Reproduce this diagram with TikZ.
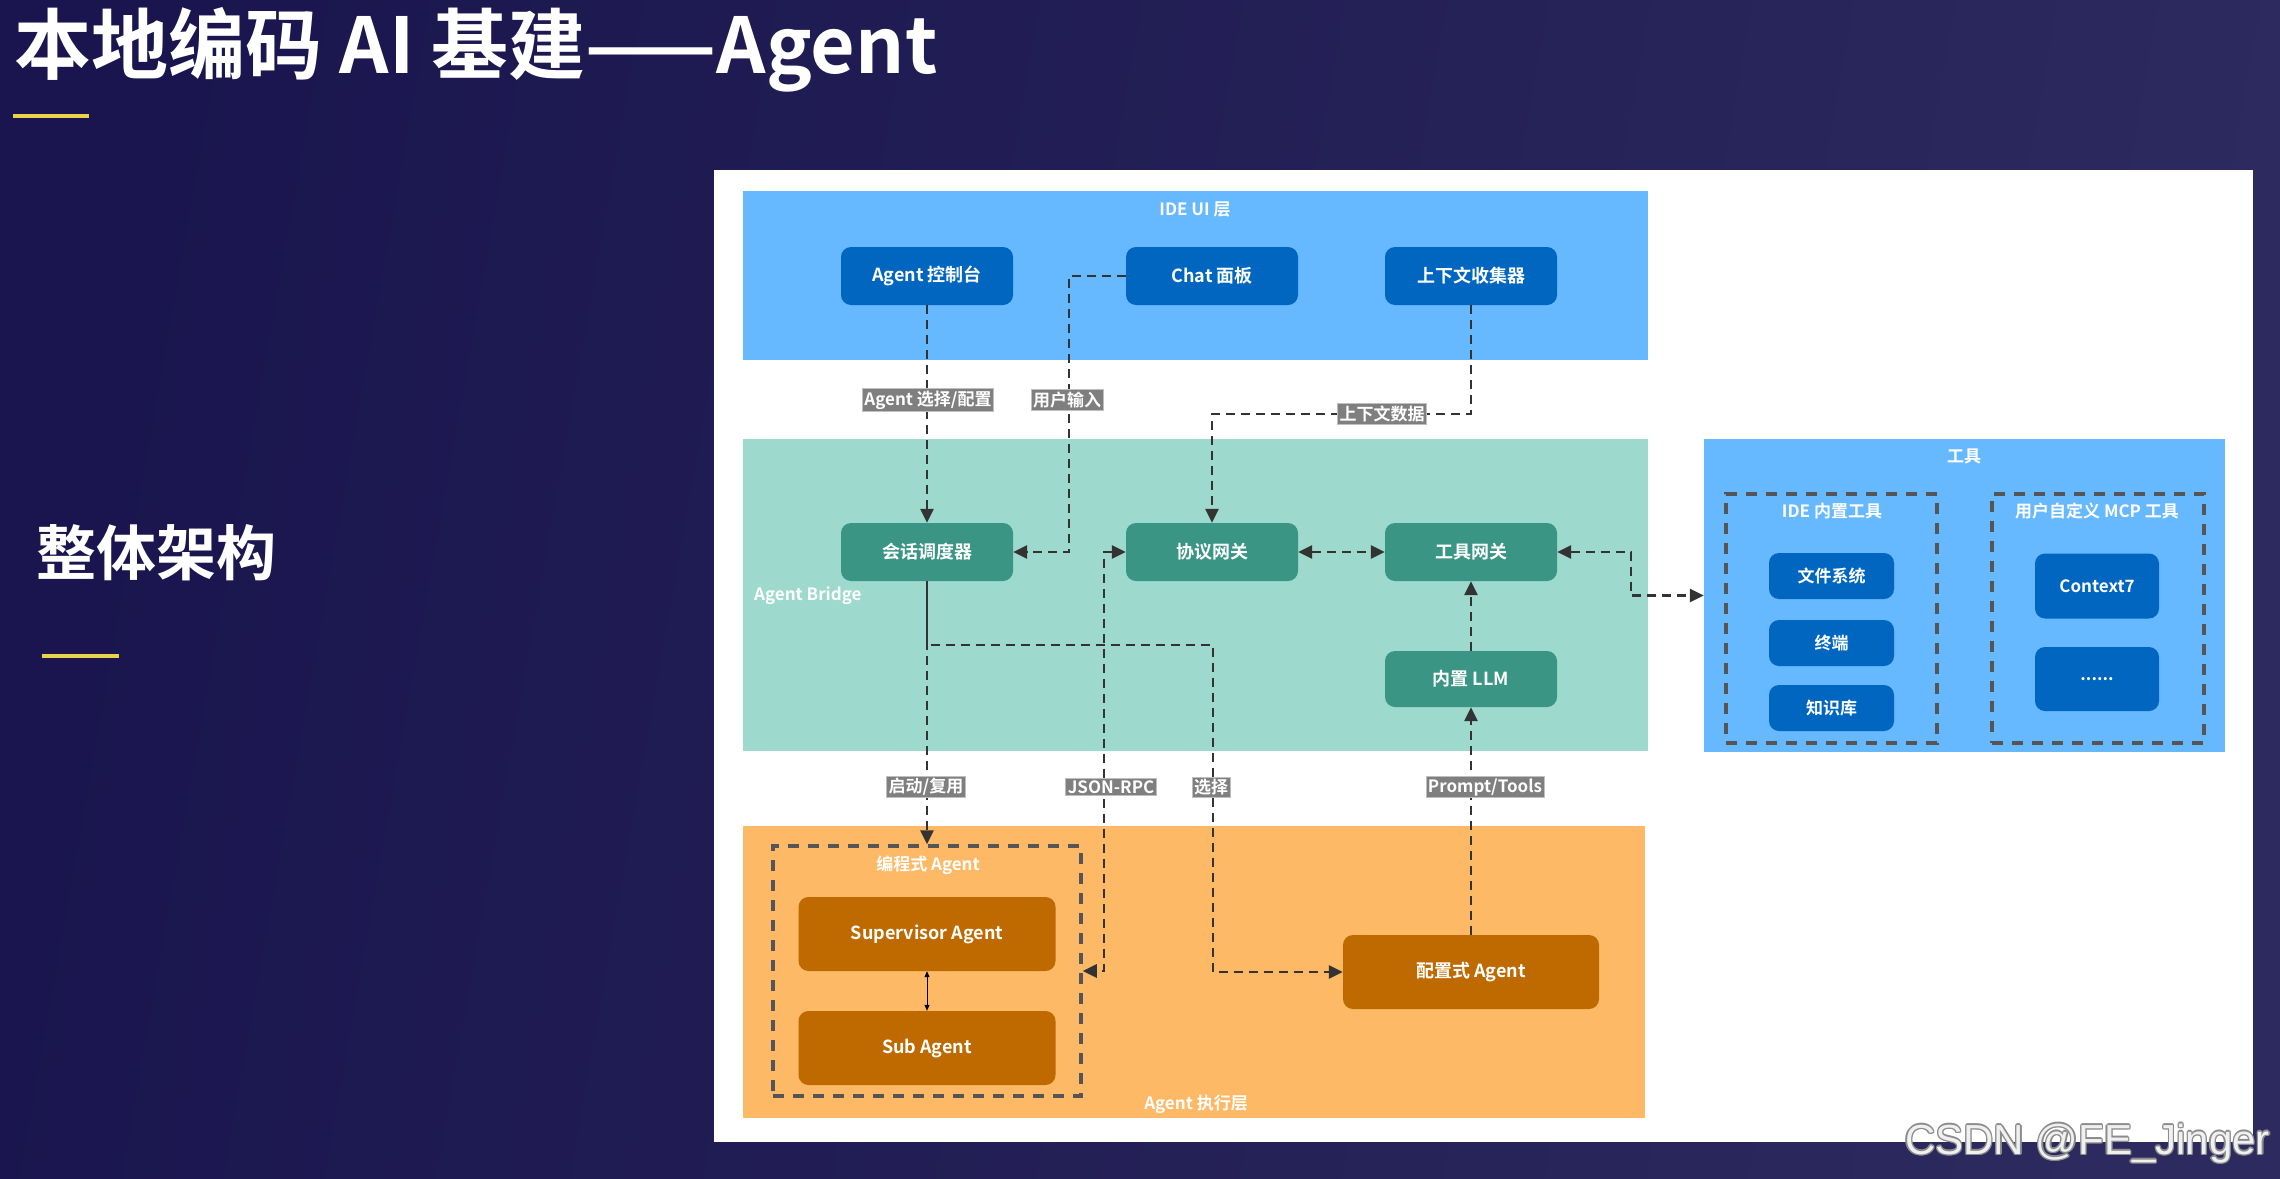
\documentclass[tikz,border=0pt]{standalone}
\usepackage{fontspec}
\setmainfont{Noto Sans CJK SC}[BoldFont={Noto Sans CJK SC Bold}]
\newfontfamily\wmfont{Liberation Sans}
\usetikzlibrary{arrows.meta,calc}
\definecolor{bgL}{HTML}{1A154E}
\definecolor{bgR}{HTML}{2C2A5E}
\definecolor{uiL}{HTML}{66B8FF}
\definecolor{uiN}{HTML}{0066C0}
\definecolor{brL}{HTML}{9ED9CD}
\definecolor{brN}{HTML}{3A9585}
\definecolor{exL}{HTML}{FDB965}
\definecolor{exN}{HTML}{BF6A00}
\definecolor{lblG}{HTML}{7F7F7F}
\definecolor{lnC}{HTML}{333333}
\definecolor{grpC}{HTML}{555555}
\definecolor{yel}{HTML}{E9D34A}
\tikzset{
  box/.style={rounded corners=10pt, text=white, font=\bfseries\fontsize{18}{20}\selectfont, inner sep=0pt, align=center},
  ubox/.style={box, fill=uiN, minimum width=172pt, minimum height=58pt},
  tbox/.style={box, fill=brN, minimum width=172pt, minimum height=58pt},
  obox/.style={box, fill=exN, minimum width=257pt, minimum height=74pt},
  toolbox/.style={box, fill=uiN, font=\bfseries\fontsize{17}{19}\selectfont},
  ttl/.style={text=white, font=\bfseries\fontsize{17}{19}\selectfont, inner sep=0pt},
  lbl/.style={fill=lblG, draw=white!75!black, line width=0.8pt, text=white, font=\bfseries\fontsize{17}{19}\selectfont, inner sep=2pt},
  conn/.style={draw=lnC, line width=2.7pt, dash pattern=on 9pt off 6pt, -{Triangle[length=14pt,width=13pt]}},
  bconn/.style={conn, {Triangle[length=14pt,width=13pt]}-{Triangle[length=14pt,width=13pt]}},
  grp/.style={draw=grpC, line width=3.5pt, dash pattern=on 11pt off 9pt, inner sep=0pt},
  wmark/.style={anchor=base east, font=\wmfont\fontsize{42}{46}\selectfont, inner sep=0pt},
}
\begin{document}
\begin{tikzpicture}[x=1pt,y=-1pt]
\useasboundingbox (0,0) rectangle (2280,1178);
% background
\shade[left color=bgL, right color=bgR, shading angle=80] (0,0) rectangle (2280,1178);
% title
\node[anchor=west, text=white, font=\bfseries\fontsize{77}{84}\selectfont, inner sep=0pt] (title) at (14,50) {本地编码 AI 基建——Agent};
\draw[yel, line width=3.5pt] (13,116) -- (89,116);
\node[anchor=west, text=white, font=\bfseries\fontsize{60}{66}\selectfont, inner sep=0pt] (overall) at (36,553) {整体架构};
\draw[yel, line width=3.5pt] (42,656) -- (119,656);
% white panel
\fill[white] (714,170) rectangle (2253,1142);
% layers
\fill[uiL] (743,191) rectangle (1648,360);
\fill[brL] (743,439) rectangle (1648,751);
\fill[exL] (743,826) rectangle (1645,1118);
\node[fill=uiL, minimum width=521pt, minimum height=313pt, inner sep=0pt] (tools) at (1964.5,595.5) {};
% layer titles
\node[ttl] (tui) at (1195,209) {IDE UI 层};
\node[ttl, anchor=west] (tbr) at (754,596) {Agent Bridge};
\node[ttl] (tex) at (1196,1104) {Agent 执行层};
\node[ttl] (ttools) at (1964,456) {工具};
% IDE UI nodes
\node[ubox] (console) at (927,276) {Agent 控制台};
\node[ubox] (chat) at (1212,276) {Chat 面板};
\node[ubox] (ctx) at (1471,276) {上下文收集器};
% bridge nodes
\node[tbox] (sched) at (927,552) {会话调度器};
\node[tbox] (proto) at (1212,552) {协议网关};
\node[tbox] (toolgw) at (1471,552) {工具网关};
\node[tbox, minimum height=56pt] (llm) at (1471,679) {内置 LLM};
% execution layer
\node[grp, minimum width=308pt, minimum height=250pt] (prog) at (927,971) {};
\node[ttl] (tprog) at (928,865) {编程式 Agent};
\node[obox] (super) at (927,934) {Supervisor Agent};
\node[obox] (sub) at (927,1048) {Sub Agent};
\node[obox, minimum width=256pt] (cfg) at (1471,972) {配置式 Agent};
% tools
\node[grp, minimum width=211pt, minimum height=249pt] (idetools) at (1831.5,618.5) {};
\node[grp, minimum width=212pt, minimum height=249pt] (mcptools) at (2098,618.5) {};
\node[ttl] (tide) at (1832,511) {IDE 内置工具};
\node[ttl] (tmcp) at (2097,511) {用户自定义 MCP 工具};
\node[toolbox, minimum width=125pt, minimum height=46pt] (fs) at (1831.5,576) {文件系统};
\node[toolbox, minimum width=125pt, minimum height=46pt] (term) at (1831.5,643) {终端};
\node[toolbox, minimum width=125pt, minimum height=46pt] (kb) at (1831.5,708) {知识库};
\node[toolbox, minimum width=124pt, minimum height=65pt] (ctxseven) at (2097,586) {Context7};
\node[toolbox, minimum width=124pt, minimum height=64pt] (more) at (2097,679) {......};
% helper coordinates
\coordinate (cUser) at (1069,400);
\coordinate (cCtx) at (1382,414);
\coordinate (cTool) at (1631,573);
\coordinate (cSel) at (1213,645);
\coordinate (cRpc) at (1104,787);
% connectors
\draw[conn] (console.south) -- (sched.north);
\draw[conn] (chat.west) -| (cUser) |- (sched.east);
\draw[conn] (ctx.south) |- (cCtx) -| (proto.north);
\draw[bconn] (proto.east) -- (toolgw.west);
\draw[bconn] (toolgw.east) -| (cTool) |- (tools.west);
\draw[conn] (llm.north) -- (toolgw.south);
\draw[conn] (cfg.north) -- (llm.south);
\draw[conn] (sched.south) -- (prog.north);
\draw[conn, dash phase=7.5pt] (sched.south) |- (cSel) |- (cfg.west);
\draw[bconn] (proto.west) -| (cRpc) |- (prog.east);
\draw[black, line width=1pt, {Triangle[length=6pt,width=5pt]}-{Triangle[length=6pt,width=5pt]}] (super.south) -- (sub.north);
% labels
\node[lbl] (lsel) at (928,400) {Agent 选择/配置};
\node[lbl] (luser) at (1067,400) {用户输入};
\node[lbl] (lctx) at (1382,414) {上下文数据};
\node[lbl] (lstart) at (926,787) {启动/复用};
\node[lbl] (lrpc) at (1111,787) {JSON-RPC};
\node[lbl] (lchoose) at (1211,787) {选择};
\node[lbl] (lprompt) at (1485,787) {Prompt/Tools};
% watermark (gray outline, white fill)
\foreach \dx/\dy in {-1.3/0,1.3/0,0/-1.3,0/1.3,-1/-1,1/1,-1/1,1/-1}
  \node[wmark, text=black!45] at ($(2270,1154)+(\dx,\dy)$) {CSDN @FE\_Jinger};
\node[wmark, text=white!94!black] (wm) at (2270,1154) {CSDN @FE\_Jinger};
\end{tikzpicture}
\end{document}
